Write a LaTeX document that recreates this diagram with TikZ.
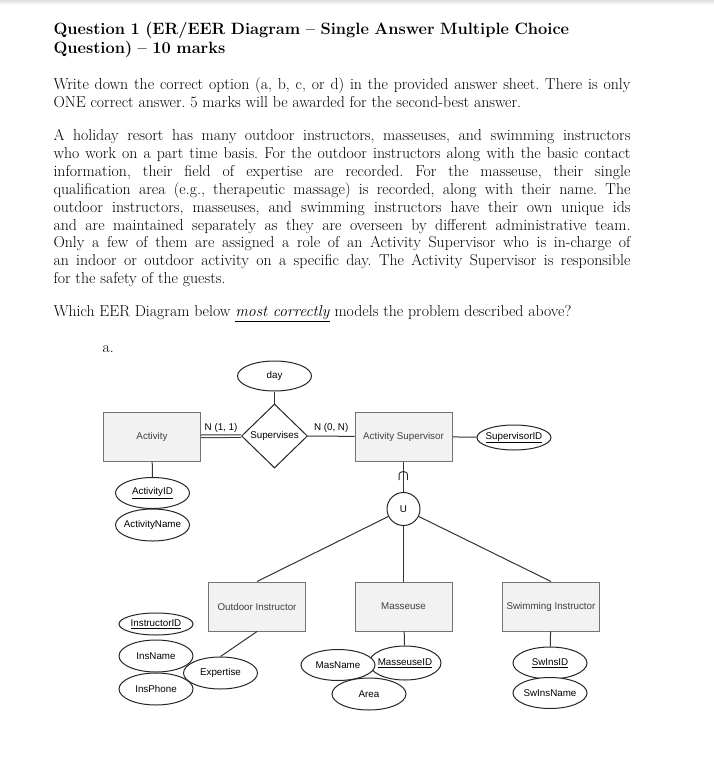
\documentclass[tikz,border=0pt]{standalone}
\usepackage{fontspec}
\usepackage{amsmath}
\newfontfamily\diafont{Liberation Sans}
\usetikzlibrary{shapes,arrows}
\usetikzlibrary{positioning}

\begin{document}
\begin{tikzpicture}[x=1pt, y=-1pt, line width=1pt, node distance=32pt]
	\tikzstyle{head} = [anchor=base west, inner sep=0pt, text width=640pt, align=left, font=\bfseries\fontsize{16.4}{18.5}\selectfont];
	\tikzstyle{para} = [anchor=base west, inner sep=0pt, text width=577pt, align=justify, font=\frenchspacing\fontsize{15.8}{17.9}\selectfont];
	\tikzstyle{entity} = [rectangle, draw=black!55, fill=black!5, text=black!75, minimum width=97pt, minimum height=49pt, font=\diafont\fontsize{9.8}{11}\selectfont];
	\tikzstyle{attr} = [ellipse, draw=black!85, fill=white, minimum width=74pt, minimum height=32pt, inner xsep=-4pt, inner ysep=0pt, font=\diafont\fontsize{9.8}{11}\selectfont];
	\tikzstyle{rel} = [diamond, draw=black!85, fill=white, minimum width=66pt, minimum height=64pt, inner sep=0pt, font=\diafont\fontsize{9.8}{11}\selectfont];
	\tikzstyle{union} = [circle, draw=black!85, fill=white, minimum size=33pt, inner sep=0pt, font=\diafont\fontsize{9.8}{11}\selectfont];
	\tikzstyle{conn} = [draw=black!80];
	\tikzstyle{card} = [above, font=\diafont\fontsize{9.8}{11}\selectfont];
	\tikzstyle{subset} = [inner sep=0pt, font=\fontsize{15}{15}\selectfont];

	\useasboundingbox (0,0) rectangle (714,757);
	\fill [white] (0,0) rectangle (714,757);
	\shade [top color=black!12, bottom color=white] (0,0) rectangle (714,5);

	% question text
	\node [head] (t_head) at (53,35) {Question 1 (ER/EER Diagram -- Single Answer Multiple Choice\\Question) -- 10 marks};
	\node [para] (t_intro) at (53,90) {Write down the correct option (a, b, c, or d) in the provided answer sheet. There is only\linebreak ONE correct answer. 5 marks will be awarded for the second-best answer.};
	\node [para] (t_case) at (53,140.5) {A holiday resort has many outdoor instructors, masseuses, and swimming instructors\linebreak who work on a part time basis. For the outdoor instructors along with the basic contact\linebreak information, their field of expertise are recorded. For the masseuse, their single\linebreak qualification area (e.g., therapeutic massage) is recorded, along with their name. The\linebreak outdoor instructors, masseuses, and swimming instructors have their own unique ids\linebreak and are maintained separately as they are overseen by different administrative team.\linebreak Only a few of them are assigned a role of an Activity Supervisor who is in-charge of\linebreak an indoor or outdoor activity on a specific day. The Activity Supervisor is responsible\linebreak for the safety of the guests.};
	\node [para] (t_ask) at (53,316) {Which EER Diagram below \underline{\textit{most correctly}} models the problem described above?};
	\node [para] (t_opt) at (102,352) {a.};

	% top part
	\node [entity] (e_act) at (152,436.5) {Activity};
	\node [rel] (r_sup) at (274.5,436) {Supervises};
	\node [entity] (e_asup) at (403.5,436.5) {Activity Supervisor};
	\node [attr, minimum height=30pt] (a_day) at (274.5,376) {day};
	\node [attr, minimum height=25pt] (a_supid) at (514,437.5) {\underline{SupervisorID}};
	\node [attr, minimum height=31pt] (a_actid) at (152.5,493) {\underline{ActivityID}};
	\node [attr, minimum height=32pt] (a_actname) [below of = a_actid] {ActivityName};
	\node [union] (c_u) at (403.5,509) {U};

	% subclasses
	\node [entity] (e_out) at (257,606.5) {Outdoor Instructor};
	\node [entity] (e_mas) at (403.5,606.5) {Masseuse};
	\node [entity] (e_swim) at (551,606.5) {Swimming Instructor};

	\node [attr, minimum height=22pt] (a_insid) at (156,624) {\underline{InstructorID}};
	\node [attr] (a_insname) at (156,656) {InsName};
	\node [attr] (a_insphone) [below of = a_insname, node distance=33pt] {InsPhone};
	\node [attr] (a_exp) at (220.5,673) {Expertise};
	\node [attr, minimum width=72pt, minimum height=34pt] (a_masid) at (405,663) {\underline{MasseuseID}};
	\node [attr, minimum height=31pt] (a_masname) at (338,665) {MasName};
	\node [attr] (a_area) at (369,694) {Area};
	\node [attr] (a_swid) at (550,663) {\underline{SwInsID}};
	\node [attr, minimum height=31pt] (a_swname) [below of = a_swid, node distance=30pt] {SwInsName};

	\path [conn] (e_act) edge [double, double distance=1.6pt] node [card] {N (1, 1)} (r_sup)
	                     edge (a_actid)
	             (r_sup) edge node [card] {N (0, N)} (e_asup)
	                     edge (a_day)
	             (e_asup) edge (a_supid)
	                      edge node [subset] {$\boldsymbol{\cap}$} (c_u)
	             (c_u) edge (e_out.north)
	                   edge (e_mas)
	                   edge (e_swim.north)
	             (e_out.south) edge (a_exp.north)
	             (e_mas) edge (a_masid)
	             (e_swim) edge (a_swid);
\end{tikzpicture}
\end{document}
